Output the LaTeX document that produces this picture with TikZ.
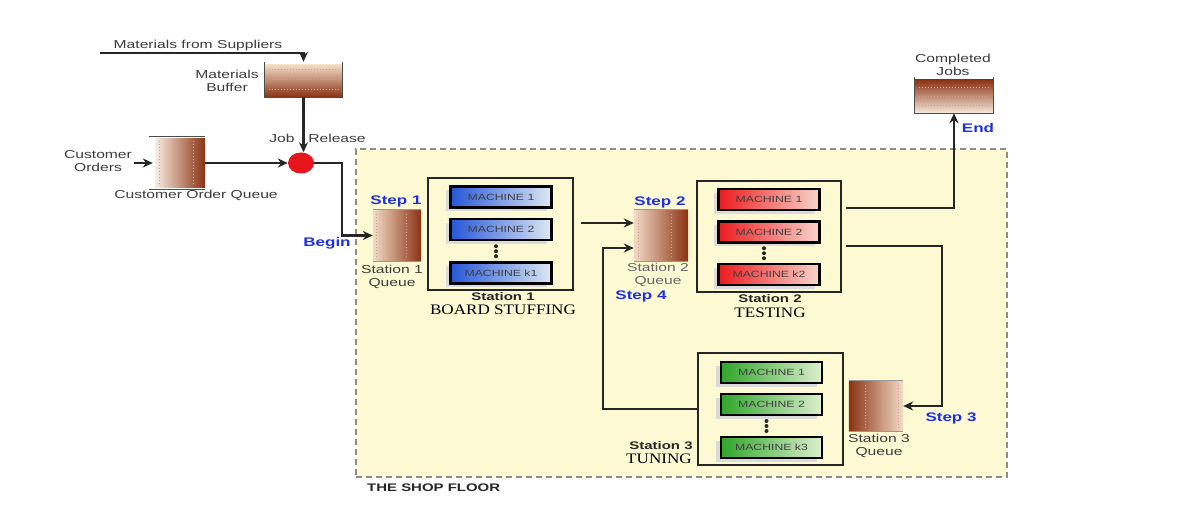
\documentclass[tikz,border=0pt]{standalone}
\usepackage{fontspec}
\setmainfont{Liberation Sans}[FakeStretch=1.36]
\newfontfamily\seriff{Liberation Serif}[FakeStretch=1.18]
\usetikzlibrary{arrows.meta,shapes.geometric,calc,shadows}
\definecolor{floorfill}{HTML}{FDFAD3}
\definecolor{floorline}{HTML}{8C8C8C}
\definecolor{tankdark}{HTML}{8A3212}
\definecolor{tanklight}{HTML}{F3DCC6}
\definecolor{labgray}{HTML}{3C3C3C}
\definecolor{stepblue}{HTML}{1E2FE6}
\definecolor{mblue}{HTML}{2656D8}
\definecolor{mbluel}{HTML}{DCE8F2}
\definecolor{mred}{HTML}{EC1A1E}
\definecolor{mredl}{HTML}{F7D6CC}
\definecolor{mgreen}{HTML}{2FA52A}
\definecolor{mgreenl}{HTML}{DDEFCF}
\definecolor{relred}{HTML}{E8141C}
\begin{document}
\begin{tikzpicture}[x=1pt,y=-1pt,
 arr/.style={-{Stealth[length=10pt,width=9pt]}, line width=2.2pt, draw=black!85},
 lab/.style={font=\fontsize{11.5}{13}\selectfont, text=labgray, inner sep=0pt, align=center},
 stepl/.style={font=\bfseries\fontsize{12.5}{14}\selectfont, text=stepblue, inner sep=0pt},
 stname/.style={font=\bfseries\fontsize{11}{12}\selectfont, text=black!85, inner sep=0pt},
 sttitle/.style={font=\seriff\fontsize{14.5}{16}\selectfont, text=black, inner sep=0pt},
 stbox/.style={draw=black!85, line width=2.1pt, inner sep=0pt},
 machine/.style={draw=black, line width=2.6pt, inner sep=0pt, minimum width=101pt, minimum height=21pt, font=\fontsize{9}{10}\selectfont, text=black!75, general shadow={fill=black!14, shadow xshift=-5pt, shadow yshift=-4pt}},
 bluem/.style={machine, left color=mblue, right color=mbluel},
 redm/.style={machine, left color=mred, middle color=mred, right color=mredl},
 greenm/.style={machine, left color=mgreen, middle color=mgreen!75!mgreenl, right color=mgreenl},
 tank/.style={inner sep=0pt, draw=none},
 tankedge/.style={draw=black!70, line width=1.3pt},
 tankdots/.style={draw=tankdark!45!white, line width=1pt, dotted},
 ]
\useasboundingbox (0,0) rectangle (1200,518);
\fill[white] (0,0) rectangle (1200,518);

% shop floor
\node[draw=floorline, fill=floorfill, line width=1.8pt, dash pattern=on 6pt off 4pt, minimum width=651pt, minimum height=328pt, inner sep=0pt] (floor) at (681.5,313) {};
\node[font=\bfseries\fontsize{11}{12}\selectfont, text=black!85, inner sep=0pt, anchor=west] (floorlab) at (367,488) {THE SHOP FLOOR};

% station boxes
\node[stbox, minimum width=145pt, minimum height=112pt] (s1box) at (500.5,234) {};
\node[stbox, minimum width=144pt, minimum height=111pt] (s2box) at (769,236.5) {};
\node[stbox, minimum width=145pt, minimum height=112pt] (s3box) at (770.5,409) {};

% machines
\node[bluem] (s1m1) at (501,197) {MACHINE 1};
\node[bluem] (s1m2) at (501,229.5) {MACHINE 2};
\node[bluem] (s1mk) at (501,273) {MACHINE k1};
\node[redm] (s2m1) at (769,199.5) {MACHINE 1};
\node[redm] (s2m2) at (769,232) {MACHINE 2};
\node[redm] (s2mk) at (769,274.5) {MACHINE k2};
\node[greenm] (s3m1) at (771.5,372.5) {MACHINE 1};
\node[greenm] (s3m2) at (771.5,404.5) {MACHINE 2};
\node[greenm] (s3mk) at (771.5,447.5) {MACHINE k3};
\foreach \a/\b in {s1m2/s1mk, s2m2/s2mk, s3m2/s3mk} {
  \foreach \d in {-5,0,5} \fill[black!85] ($(\a.south)!0.5!(\b.north)+(-5,\d)$) circle (2pt);
}

% station labels
\node[stname] (s1name) at (503,297) {Station 1};
\node[sttitle] (s1title) at (503,310) {BOARD STUFFING};
\node[stname] (s2name) at (770,299) {Station 2};
\node[sttitle] (s2title) at (770,313) {TESTING};
\node[stname] (s3name) at (661,446) {Station 3};
\node[sttitle] (s3title) at (659,459) {TUNING};

% materials buffer
\node[tank, minimum width=77pt, minimum height=35pt] (buf) at (303.5,79.5) {};
\shade[top color=tanklight, bottom color=tankdark] ($(buf.north west)+(0,3)$) rectangle (buf.south east);
\foreach \f in {0.22,0.5,0.78} \draw[tankdots] ($(buf.north west)!\f!(buf.south west)+(4,0)$) -- ($(buf.north east)!\f!(buf.south east)+(-4,0)$);
\draw[tankedge] (buf.north west) -- (buf.south west) -- (buf.south east) -- (buf.north east);

% completed jobs
\node[tank, minimum width=78pt, minimum height=36pt] (done) at (954,95) {};
\shade[top color=tankdark, bottom color=tanklight!60!white] ($(done.north west)+(0,3)$) rectangle (done.south east);
\foreach \f in {0.3,0.55,0.8} \draw[tankdots] ($(done.north west)!\f!(done.south west)+(4,0)$) -- ($(done.north east)!\f!(done.south east)+(-4,0)$);
\draw[tankedge] (done.north west) -- (done.south west) -- (done.south east) -- (done.north east);

% customer order queue
\node[tank, minimum width=52pt, minimum height=52pt] (coq) at (179,163) {};
\shade[left color=tanklight!50!white, right color=tankdark] ($(coq.north west)+(2,2)$) rectangle ($(coq.south east)+(0,-2)$);
\foreach \f in {0.13,0.44,0.77} \draw[tankdots] ($(coq.north west)!\f!(coq.north east)+(0,4)$) -- ($(coq.south west)!\f!(coq.south east)+(0,-4)$);
\draw[tankedge] ($(coq.north west)+(-4,0)$) -- (coq.north east);
\draw[tankedge] ($(coq.south west)+(-4,0)$) -- (coq.south east);

% station queues
\node[tank, minimum width=48pt, minimum height=51pt] (q1) at (397,235.5) {};
\node[tank, minimum width=54pt, minimum height=51pt] (q2) at (661,235.5) {};
\node[tank, minimum width=54pt, minimum height=50pt] (q3) at (876,406) {};
\foreach \q in {q1,q2} {
  \shade[left color=tanklight, right color=tankdark] ($(\q.north west)+(0,1)$) rectangle ($(\q.south east)+(0,-1)$);
  \foreach \f in {0.08,0.38,0.69} \draw[tankdots] ($(\q.north west)!\f!(\q.north east)+(0,4)$) -- ($(\q.south west)!\f!(\q.south east)+(0,-4)$);
  \draw[draw=black!40, line width=0.8pt] (\q.north west) -- (\q.north east);
  \draw[draw=black!40, line width=0.8pt] (\q.south west) -- (\q.south east);
}
\shade[left color=tankdark, right color=tanklight] ($(q3.north west)+(0,1)$) rectangle ($(q3.south east)+(0,-1)$);
\foreach \f in {0.31,0.62,0.92} \draw[tankdots] ($(q3.north west)!\f!(q3.north east)+(0,4)$) -- ($(q3.south west)!\f!(q3.south east)+(0,-4)$);
\draw[draw=black!40, line width=0.8pt] (q3.north west) -- (q3.north east);
\draw[draw=black!40, line width=0.8pt] (q3.south west) -- (q3.south east);

% job release
\node[ellipse, fill=relred, minimum width=26pt, minimum height=21pt, inner sep=0pt] (rel) at (301,163) {};

% labels
\node[lab] (suplab) at (198,46) {Materials from Suppliers};
\node[lab] (buflab) at (227,81) {Materials\\Buffer};
\node[lab] (joblab) at (282,138) {Job};
\node[lab] (rellab) at (337,138) {Release};
\node[lab] (custlab) at (98,161) {Customer\\Orders};
\node[lab] (coqlab) at (196,195) {Customer Order Queue};
\node[stepl] (beginlab) at (327,243) {Begin};
\node[stepl] (step1) at (396,201) {Step 1};
\node[lab] (q1lab) at (392,276.5) {Station 1\\Queue};
\node[stepl] (step2) at (660,202) {Step 2};
\node[lab, text=black!60, font=\fontsize{11.5}{12.5}\selectfont] (q2lab) at (658,275) {Station 2\\Queue};
\node[stepl] (step4) at (641,296) {Step 4};
\node[stepl] (step3) at (951,418) {Step 3};
\node[lab] (q3lab) at (879,445.5) {Station 3\\Queue};
\node[lab] (donelab) at (953,64.5) {Completed\\Jobs};
\node[stepl] (endlab) at (978,128) {End};

% connectors
\coordinate (supsrc) at (100,53);
\draw[arr] (supsrc) -| (buf.north);
\draw[arr] (buf.south) -- (buf.south |- rel.north);
\coordinate (custsrc) at (134,163);
\draw[arr] (custsrc) -- (coq.west);
\draw[arr] (coq.east) -- (rel.west);
\draw[arr] (rel.east) -- ++(28,0) |- (q1.west);
\coordinate (q2up) at ($(q2.west)+(0,-12.5)$);
\coordinate (q2dn) at ($(q2.west)+(0,12.5)$);
\draw[arr] ($(s1box.east |- q2up)+(7,0)$) -- (q2up);
\draw[arr] (s3box.west) -- ++(-94,0) |- (q2dn);
\coordinate (s2o1) at ($(s2box.north east)!0.245!(s2box.south east)+(4,0)$);
\coordinate (s2o2) at ($(s2box.north east)!0.585!(s2box.south east)+(4,0)$);
\draw[arr] (s2o1) -| (done.south);
\draw[arr] (s2o2) -- ++(96,0) |- (q3.east);
\end{tikzpicture}
\end{document}
